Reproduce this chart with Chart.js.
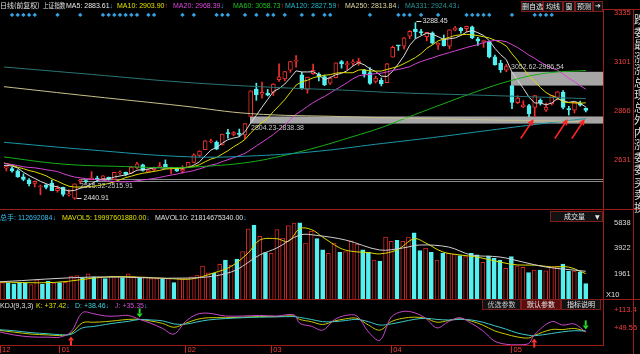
<!DOCTYPE html>
<html lang="en">
<head>
<meta charset="utf-8">
<title>上证指数 日线</title>
<script src="https://cdn.jsdelivr.net/npm/chart.js@4.4.1/dist/chart.umd.min.js"></script>
<style>
    html, body { margin: 0; padding: 0; background: #000; }
    #screen { position: relative; width: 640px; height: 354px; overflow: hidden; background: #000;
              font-family: "Liberation Sans", Arial, sans-serif; font-size: 7px; color: #e0e0e0; }
    #screen canvas { position: absolute; left: 0; }
    .txt { position: absolute; white-space: nowrap; line-height: 9px; }
    .cn { font-family: "Noto Sans CJK SC", sans-serif; }
    .dn { color: #2cb0ff; }
    .up { color: #ff3030; }
    .btn { position: absolute; box-sizing: border-box; height: 11px; line-height: 9px; border: 1px solid #7c1c1c;
           background: #121212; color: #e8e8e8; text-align: center; white-space: nowrap;
           font-family: "Noto Sans CJK SC", sans-serif; font-size: 7px; }
    .hl { position: absolute; height: 1px; background: #9c1c1c; }
    .vl { position: absolute; width: 1px; background: #9c1c1c; }
    #side { position: absolute; left: 634px; top: 13px; width: 20px; font-family: "Noto Sans CJK SC", sans-serif;
            font-size: 11px; line-height: 12.5px; color: #dcdcdc; }
</style>
</head>
<body>
<div id="screen">
    <canvas id="mainChart" width="640" height="210" style="top:0"></canvas>
    <canvas id="volChart" width="640" height="90" style="top:210px"></canvas>
    <canvas id="kdjChart" width="640" height="54" style="top:300px"></canvas>

    <!-- frame lines -->
    <div class="hl" style="left:0;top:209px;width:640px"></div>
    <div class="hl" style="left:0;top:299px;width:640px"></div>
    <div class="hl" style="left:603px;top:9px;width:37px"></div>
    <div class="vl" style="left:603px;top:9px;height:336px"></div>
    <div class="vl" style="left:633px;top:9px;height:345px"></div>

    <!-- main header -->
    <div class="txt cn" style="left:0;top:1px;font-size:7px">日线(前复权)</div>
    <div class="txt cn" style="left:43px;top:1px;font-size:7px;transform:scale(0.8,1);transform-origin:0 0">上证指数</div>
    <div class="txt" style="left:66px;top:1px;color:#e6e6e6">MA5: 2883.61<span class="dn">↓</span></div>
    <div class="txt" style="left:117px;top:1px;color:#e0e000">MA10: 2903.90<span class="up">↑</span></div>
    <div class="txt" style="left:173px;top:1px;color:#e048e0">MA20: 2968.39<span class="dn">↓</span></div>
    <div class="txt" style="left:233px;top:1px;color:#20c020">MA60: 3058.73<span class="up">↑</span></div>
    <div class="txt" style="left:285px;top:1px;color:#20b8c8">MA120: 2827.59<span class="up">↑</span></div>
    <div class="txt" style="left:345px;top:1px;color:#e0d8a0">MA250: 2813.84<span class="dn">↓</span></div>
    <div class="txt" style="left:405px;top:1px;color:#2c9494">MA331: 2924.43<span class="dn">↓</span></div>
    <div class="btn" style="left:521px;top:1px;width:22px">删自选</div>
    <div class="btn" style="left:543px;top:1px;width:20px">均线</div>
    <div class="btn" style="left:563px;top:1px;width:12px">窗</div>
    <div class="btn" style="left:575px;top:1px;width:18px">预测</div>
    <div class="btn" style="left:593px;top:1px;width:10px;font-family:'DejaVu Sans'">➜</div>

    <!-- volume header -->
    <div class="txt" style="left:0;top:213px;color:#38c0f0"><span class="cn">总手</span>: 112692084<span class="dn">↓</span></div>
    <div class="txt" style="left:62px;top:213px;color:#e0e000">MAVOL5: 19997601880.00<span class="dn">↓</span></div>
    <div class="txt" style="left:155px;top:213px;color:#e0e0e0">MAVOL10: 21814675340.00<span class="dn">↓</span></div>
    <div class="btn" style="left:550px;top:211px;width:53px;text-align:left;padding-left:13px">成交量<span style="position:absolute;left:44px;font-family:'DejaVu Sans';font-size:6px">▼</span></div>
    <div class="txt" style="left:606px;top:290px;color:#e0e0e0;font-size:7.5px">X10</div>

    <!-- kdj header -->
    <div class="txt" style="left:0;top:301px;color:#e0e0e0">KDJ(9,3,3)</div>
    <div class="txt" style="left:36px;top:301px;color:#e0e000">K: +37.42<span class="dn">↓</span></div>
    <div class="txt" style="left:75px;top:301px;color:#3cd8d8">D: +38.46<span class="dn">↓</span></div>
    <div class="txt" style="left:115px;top:301px;color:#d050d0">J: +35.35<span class="dn">↓</span></div>
    <div class="btn" style="left:482px;top:299px;width:39px;color:#c8c8c8">优选参数</div>
    <div class="btn" style="left:521px;top:299px;width:40px;background:#5c0c0c">默认参数</div>
    <div class="btn" style="left:561px;top:299px;width:40px">指标说明</div>

    <!-- cut-off quote panel on the right -->
    <div id="side">跌<br>委<br>最<br>涨<br>涨<br>总<br>现<br>总<br>外<br>内<br>涨<br>委<br>委<br>买<br>卖<br>换</div>
</div>

<script>
// ========================================
// DATA
// ========================================
const dates = [
    '12-14','12-17','12-18','12-19','12-20','12-21','12-24','12-25','12-26','12-27','12-28',
    '01-02','01-03','01-04','01-07','01-08','01-09','01-10','01-11','01-14','01-15','01-16',
    '01-17','01-18','01-21','01-22','01-23','01-24','01-25','01-28','01-29','01-30','01-31',
    '02-01','02-11','02-12','02-13','02-14','02-15','02-18','02-19','02-20','02-21','02-22',
    '02-25','02-26','02-27','02-28',
    '03-01','03-04','03-05','03-06','03-07','03-08','03-11','03-12','03-13','03-14','03-15',
    '03-18','03-19','03-20','03-21','03-22','03-25','03-26','03-27','03-28','03-29',
    '04-01','04-02','04-03','04-04','04-08','04-09','04-10','04-11','04-12','04-15','04-16',
    '04-17','04-18','04-19','04-22','04-23','04-24','04-25','04-26','04-29','04-30',
    '05-06','05-07','05-08','05-09','05-10','05-13','05-14','05-15','05-16','05-17','05-20',
    '05-21','05-22','05-23'
];

const openP = [
    2618,2591,2589,2578,2549,2535,2517,2500,2510,2519,2483,
    2498,2462,2446,2529,2530,2535,2543,2540,2547,2537,2568,2570,2566,2592,2607,2574,2583,2595,2609,2590,2589,2576,
    2596,2618,2651,2679,2717,2714,2702,2758,2752,2757,2750,2839,2970,2945,2951,
    2954,3015,3019,3060,3103,3038,2968,3044,3040,3030,2998,3024,3102,3087,3094,3095,3060,3049,3007,3012,3001,
    3123,3178,3176,3223,3257,3245,3221,3240,3182,3212,3176,3252,3262,3259,3268,3211,3197,3197,3125,3093,3060,
    2986,2905,2885,2891,2882,2916,2869,2898,2930,2955,2876,2868,2903,2878
];
const highP = [
    2620,2602,2597,2583,2563,2540,2529,2510,2512,2533,2505,
    2500,2488,2515.32,2536,2531,2574,2552,2555,2548,2571,2578,2572,2599,2619,2610,2588,2596,2618,2630,2596,2594,2602,
    2619,2659,2674,2723,2730,2721,2754,2777,2766,2778,2804.23,2961,2998,3003,2968,
    2996,3091,3055,3103,3130,3050,3027,3090,3048,3037,3028,3096,3107,3103,3111,3118,3064,3073,3032,3023,3093,
    3176,3179,3217,3250,3288.45,3256,3242,3244,3192,3229,3254,3270,3266,3272,3272,3218,3204,3198,3133,3108,3088,
    2986.54,2938,2914,2897,2939,2923,2902,2940,2958,2963,2887,2906,2912,2880
];
const lowP = [
    2590,2577,2571,2546,2530,2505,2500,2463,2491,2482,2475,
    2456,2456,2440.91,2515.91,2520,2535,2525,2533,2533,2536,2561,2554,2565,2588,2576,2571,2576,2594,2597,2563,2575,2566,
    2596,2616,2647,2679,2711,2679,2701,2734,2746,2742,2732,2838.38,2916,2926,2937,
    2939,3006,3009,3050,3075,2969,2950,3040,3009,2986,2992,3023,3070,3063,3083,3084,3027,2992,2999,2985,3001,
    3123,3155,3162,3212,3213,3231,3201,3185,3160,3176,3163,3249,3238,3244,3211,3179,3170,3119,3085,3050,3052.62,
    2876,2900,2880,2838,2838,2893,2863,2893,2918,2875,2845,2855,2888,2860
];
const closeP = [
    2594,2598,2577,2550,2536,2516,2527,2505,2498,2483,2494,
    2465,2464,2515,2533,2526,2544,2535,2554,2536,2570,2570,2560,2596,2611,2580,2581,2592,2602,2597,2594,2576,2585,
    2618,2654,2672,2721,2720,2682,2754,2756,2761,2752,2804,2961,2942,2954,2941,
    2994,3028,3054,3102,3106,2970,3027,3060,3027,2991,3022,3096,3091,3091,3101,3104,3043,2997,3023,2995,3091,
    3170,3177,3216,3247,3245,3240,3242,3190,3189,3178,3254,3263,3250,3271,3215,3199,3202,3124,3086,3063,3078,
    2906,2926,2894,2851,2939,2904,2884,2939,2956,2882,2871,2906,2892,2867
];

// volume in axis units of the lower panel
const volume = [
    1350,1321,1295,1218,1321,1321,1166,1526,1192,1423,1295,
    1321,1346,1807,1858,1679,1987,1756,1756,1628,1756,1780,1705,1987,1780,1679,1756,1628,1628,1577,1628,1321,1628,
    1628,1756,1884,2576,2063,2038,2704,3038,2653,3115,3679,5397,5679,4833,3602,
    3550,5345,4704,5653,5832,5858,4325,5217,4653,3807,3550,4320,3627,3679,4500,4243,3807,3627,3038,2961,4781,
    4448,4525,4448,4781,5089,3756,3935,3627,3038,3550,3550,3474,3371,3294,3550,3422,2858,3345,3166,3038,2397,
    3294,2602,2474,2089,2269,2269,2218,2525,2576,2730,2192,2192,2141,1244
];

// short moving averages, one value per candle
const ma5 = [
    2602,2604,2601,2591,2571,2555,2541,2527,2516,2506,2501,
    2489,2481,2484,2494,2501,2516,2531,2538,2539,2548,2553,2558,2566,2581,2583,2586,2592,2593,2590,2593,2592,2591,
    2594,2605,2621,2650,2677,2690,2710,2727,2735,2741,2765,2807,2844,2883,2920,
    2958,2972,2994,3024,3057,3052,3052,3053,3038,3015,3025,3039,3045,3058,3080,3097,3086,3067,3054,3032,3030,
    3055,3091,3130,3180,3211,3225,3238,3233,3221,3208,3211,3215,3227,3243,3251,3240,3227,3202,3165,3135,3111,
    3051,3012,2973,2931,2903,2903,2894,2903,2924,2913,2906,2911,2901,2884
];
const ma10 = [
    2619,2613,2605,2595,2588,2579,2573,2564,2554,2539,2528,
    2515,2504,2500,2500,2501,2503,2506,2511,2517,2525,2535,2545,2552,2560,2566,2570,2575,2580,2586,2588,2589,2592,
    2594,2598,2607,2621,2634,2642,2658,2674,2693,2709,2728,2759,2786,2809,2831,
    2862,2890,2919,2954,2989,3005,3012,3024,3031,3036,3039,3046,3049,3048,3048,3061,3063,3056,3056,3056,3064,
    3071,3079,3092,3106,3121,3140,3165,3182,3201,3210,3218,3227,3230,3232,3230,3226,3221,3215,3204,3193,3176,
    3139,3107,3069,3033,3007,2977,2953,2938,2928,2908,2905,2903,2902,2904
];
const ma20 = [
    2616,2611,2608,2603,2597,2594,2592,2588,2583,2579,2574,
    2564,2555,2548,2544,2540,2538,2535,2533,2528,2527,2525,2525,2526,2530,2534,2537,2541,2546,2552,2557,2562,2569,
    2573,2579,2587,2596,2605,2611,2622,2631,2641,2651,2661,2679,2697,2715,2733,
    2752,2774,2797,2824,2849,2867,2886,2905,2920,2934,2951,2968,2984,3001,3019,3033,3038,3040,3044,3046,3052,
    3059,3064,3070,3077,3091,3102,3111,3119,3129,3137,3145,3153,3161,3169,3176,3183,3193,3199,3203,3202,3197,
    3183,3169,3151,3132,3117,3099,3084,3071,3061,3042,3022,3005,2986,2969
];

// long moving averages, read at a few candles
const ma60Idx = [0, 11, 22, 30, 38, 44, 50, 56, 62, 67, 72, 78, 84, 90, 96, 103];
const ma60 = [2646, 2610, 2598, 2593, 2603, 2620, 2652, 2693, 2742, 2785, 2838, 2900, 2960, 3012, 3046, 3059];
const ma120Idx = [0, 15, 33, 45, 56, 66, 76, 86, 95, 103];
const ma120 = [2716, 2680, 2645, 2650, 2672, 2705, 2737, 2772, 2803, 2828];
const ma250Idx = [0, 16, 32, 44, 60, 75, 90, 103];
const ma250 = [2983, 2935, 2889, 2852, 2838, 2828, 2820, 2814];
const ma331Idx = [0, 16, 32, 48, 60, 70, 85, 103];
const ma331 = [3077, 3040, 3003, 2978, 2965, 2952, 2940, 2924];

// volume averages
const mavol5Idx = [0, 10, 20, 30, 34, 38, 41, 44, 46, 49, 51, 53, 55, 57, 60, 62, 65, 67, 70, 73, 75, 78, 81, 84, 88, 91, 94, 97, 100, 103];
const mavol5 = [1366, 1330, 1770, 1630, 1594, 2060, 2550, 3580, 4550, 4650, 4450, 5420, 5350, 4780, 3950, 3700, 3600, 3500, 3800, 4650, 4330, 3650, 3420, 3260, 2880, 2660, 2650, 2510, 2500, 2000];
const mavol10Idx = [0, 17, 34, 41, 46, 49, 53, 56, 61, 67, 71, 74, 79, 83, 88, 92, 96, 103];
const mavol10 = [1366, 1746, 1670, 2125, 3416, 3947, 4934, 4900, 4554, 3795, 3947, 4175, 4023, 3416, 3264, 2884, 2505, 2181];

// KDJ(9,3,3)
const kdjIdx = [0,3,6,9,11,13,15,17,19,21,23,25,27,29,31,33,35,37,40,43,46,49,52,53,55,57,59,61,63,65,67,69,71,73,75,77,79,81,83,85,87,89,91,93,94,97,99,101,103];
const kLine = [42,35,28,25,23,30,68,70,72,76,80,80,74,66,52,66,80,86,86,88,90,90,92,80,72,62,74,82,84,60,42,72,84,88,84,70,76,82,74,60,40,28,18,14,23,44,44,48,37.42];
const dLine = [44,40,33,29,26,27,50,55,62,68,73,80,78,75,64,63,71,78,83,86,88,89,90,87,80,72,72,76,80,72,60,64,72,80,84,80,78,80,78,70,58,46,32,24,22,30,36,40,38.46];
const jLine = [38,25,18,17,17,36,104,100,92,92,94,80,66,48,28,72,98,102,92,92,94,92,96,66,56,42,78,94,92,36,6,88,108,104,84,50,72,86,66,40,4,-8,-10,-6,25,72,60,64,35.35];

// markers
const signalIdx = [2,3,4,5,6,10,14,18,19,20,21,22,23,24,26,27,32,34,38,39,40,43,45,47,48,50,53,55,57,58,65,70,71,72,74,77,82,83,84,85,86,90,94,95,96,97];
const gapIdx = [14, 44, 90];
const supportGapIdx = 44;
const supportArrowIdx = [94, 100, 103];
const goldenCrossIdx = [13, 94];
const deadCrossIdx = [25, 103];

// axis ticks
const priceTicks = [2631, 2866, 3101, 3335];
const volumeTicks = [1961, 3922, 5838];
const kdjTicks = [49.55, 113.4];

document.addEventListener('DOMContentLoaded', function() {

    // ========================================
    // 1. SHARED SETTINGS
    // ========================================
    const RED = '#f03030';
    const CYAN = '#54f0f0';
    const FRAME = '#9c1c1c';
    const LABEL_RED = '#f04040';
    const FONT = 'Liberation Sans';
    const X_MIN = 0.585;
    const X_MAX = 106.02;

    const candleIdx = dates.map(function(d, i) { return i; });
    const isUp = closeP.map(function(c, i) { return c >= openP[i]; });

    function points(idx, vals) {
        return idx.map(function(x, n) { return { x: x, y: vals[n] }; });
    }
    function series(vals) {
        return vals.map(function(v, i) { return { x: i, y: v }; });
    }

    function lineSet(data, color, tension) {
        return {
            type: 'line',
            data: data,
            borderColor: color,
            borderWidth: 1,
            pointRadius: 0,
            tension: tension || 0,
            order: 1
        };
    }

    function rightAxis(min, max, ticks, color, label) {
        return {
            position: 'right',
            min: min,
            max: max,
            grid: { display: false },
            border: { display: true, color: FRAME },
            afterBuildTicks: function(axis) {
                axis.ticks = ticks.map(function(v) { return { value: v }; });
            },
            afterFit: function(axis) {
                axis.width = 37;
                axis.paddingTop = 0;
                axis.paddingBottom = 0;
            },
            ticks: {
                color: color,
                padding: 3,
                font: { family: FONT, size: 7.5 },
                callback: label
            }
        };
    }

    // bar charts put an offset on the x scale by default, switch it off
    const hiddenX = { type: 'linear', min: X_MIN, max: X_MAX, offset: false, display: false };

    const baseOptions = {
        responsive: false,
        animation: false,
        events: [],
        plugins: { legend: { display: false }, tooltip: { enabled: false } }
    };

    function drawArrow(ctx, x1, y1, x2, y2, color) {
        const a = Math.atan2(y2 - y1, x2 - x1);
        ctx.strokeStyle = color;
        ctx.lineWidth = 1.5;
        ctx.beginPath();
        ctx.moveTo(x1, y1);
        ctx.lineTo(x2, y2);
        ctx.moveTo(x2 - 5 * Math.cos(a - 0.5), y2 - 5 * Math.sin(a - 0.5));
        ctx.lineTo(x2, y2);
        ctx.lineTo(x2 - 5 * Math.cos(a + 0.5), y2 - 5 * Math.sin(a + 0.5));
        ctx.stroke();
    }

    // dir -1: pointing up, +1: pointing down
    function drawSignal(ctx, x, tipY, dir, color) {
        ctx.fillStyle = color;
        if (dir < 0) {
            ctx.fillRect(x - 1, tipY + 4, 2, 5);
        } else {
            ctx.fillRect(x - 1, tipY - 9, 2, 5);
        }
        ctx.beginPath();
        ctx.moveTo(x, tipY);
        ctx.lineTo(x - 3, tipY - dir * 4);
        ctx.lineTo(x + 3, tipY - dir * 4);
        ctx.closePath();
        ctx.fill();
    }

    // gaps between neighbouring candles
    const gaps = gapIdx.map(function(i) {
        const up = lowP[i] > highP[i - 1];
        const prev = up ? highP[i - 1] : lowP[i - 1];
        const cur = up ? lowP[i] : highP[i];
        return {
            i: i,
            up: up,
            hi: Math.max(prev, cur),
            lo: Math.min(prev, cur),
            text: prev.toFixed(2) + '-' + cur.toFixed(2)
        };
    });

    // ========================================
    // 2. MAIN PANEL OVERLAYS
    // ========================================
    const mainOverlay = {
        id: 'mainOverlay',
        beforeDatasetsDraw: function(chart) {
            const ctx = chart.ctx, area = chart.chartArea;
            const x = chart.scales.x, y = chart.scales.y;
            ctx.save();
            ctx.beginPath();
            ctx.rect(area.left, area.top, area.right - area.left, area.bottom - area.top);
            ctx.clip();
            gaps.forEach(function(g) {
                const x0 = Math.round(x.getPixelForValue(g.i)) - 1;
                const yTop = y.getPixelForValue(g.hi);
                const yBot = y.getPixelForValue(g.lo);
                if (yBot - yTop >= 3) {
                    ctx.fillStyle = '#a6a6a6';
                    ctx.fillRect(x0, yTop, area.right - x0, yBot - yTop);
                } else {
                    ctx.strokeStyle = '#8a8a8a';
                    ctx.lineWidth = 1;
                    ctx.beginPath();
                    ctx.moveTo(x0, Math.round(yBot) - 4.5);
                    ctx.lineTo(area.right, Math.round(yBot) - 4.5);
                    ctx.moveTo(x0, Math.round(yBot) - 2.5);
                    ctx.lineTo(area.right, Math.round(yBot) - 2.5);
                    ctx.stroke();
                }
            });
            ctx.restore();
        },
        afterDatasetsDraw: function(chart) {
            const ctx = chart.ctx;
            const x = chart.scales.x, y = chart.scales.y;
            ctx.save();
            ctx.font = '7px "' + FONT + '"';
            ctx.fillStyle = '#c8c8c8';

            // gap labels
            gaps.forEach(function(g) {
                const x0 = Math.round(x.getPixelForValue(g.i)) - 1;
                const yTop = y.getPixelForValue(g.hi);
                const yBot = y.getPixelForValue(g.lo);
                if (g.up) {
                    ctx.textBaseline = 'top';
                    ctx.fillText(g.text, x0 + 1, yBot - yTop >= 3 ? yBot + 0.5 : yBot - 1.5);
                } else {
                    ctx.textBaseline = 'bottom';
                    ctx.fillText(g.text, x0, yTop - 1.5);
                }
            });

            // highest high / lowest low
            ctx.fillStyle = '#e0e0e0';
            ctx.strokeStyle = '#e0e0e0';
            ctx.lineWidth = 1;
            ctx.textBaseline = 'middle';
            const peak = highP.indexOf(Math.max.apply(null, highP));
            const trough = lowP.indexOf(Math.min.apply(null, lowP));
            let px = x.getPixelForValue(peak), py = y.getPixelForValue(highP[peak]) - 1.5;
            ctx.beginPath();
            ctx.moveTo(px + 1, Math.round(py) + 0.5);
            ctx.lineTo(px + 6, Math.round(py) + 0.5);
            ctx.stroke();
            ctx.fillText(highP[peak].toFixed(2), px + 7, py);
            px = x.getPixelForValue(trough);
            py = y.getPixelForValue(lowP[trough]) - 1;
            ctx.beginPath();
            ctx.moveTo(px + 2, Math.round(py) + 0.5);
            ctx.lineTo(px + 7, Math.round(py) + 0.5);
            ctx.stroke();
            ctx.fillText(lowP[trough].toFixed(2), px + 9, py);

            // hand drawn arrows pointing at the support gap
            const support = gaps.filter(function(g) { return g.i === supportGapIdx; })[0];
            const tipY = y.getPixelForValue(support.hi) + 4;
            supportArrowIdx.forEach(function(i) {
                const tx = x.getPixelForValue(i) - 2;
                drawArrow(ctx, tx - 12, tipY + 18, tx, tipY, '#ff2424');
            });
            ctx.restore();
        }
    };

    // ========================================
    // 3. CANDLES + MOVING AVERAGES
    // ========================================
    new Chart(document.getElementById('mainChart'), {
        type: 'bar',
        data: {
            datasets: [
                {
                    data: candleIdx.map(function(i) { return { x: i, y: [lowP[i], highP[i]] }; }),
                    backgroundColor: isUp.map(function(u) { return u ? RED : CYAN; }),
                    barThickness: 1,
                    grouped: false,
                    order: 6
                },
                {
                    data: candleIdx.map(function(i) { return { x: i, y: [openP[i], closeP[i]] }; }),
                    backgroundColor: isUp.map(function(u) { return u ? '#000' : CYAN; }),
                    borderColor: isUp.map(function(u) { return u ? RED : CYAN; }),
                    borderWidth: 1,
                    borderSkipped: false,
                    barThickness: 4,
                    minBarLength: 1,
                    grouped: false,
                    order: 5
                },
                lineSet(points(ma331Idx, ma331), '#2a7676', 0.4),
                lineSet(points(ma250Idx, ma250), '#c8c08c', 0.4),
                lineSet(points(ma120Idx, ma120), '#1c96a8', 0.4),
                lineSet(points(ma60Idx, ma60), '#18b018', 0.4),
                lineSet(series(ma20), '#d444d4'),
                lineSet(series(ma10), '#dcdc00'),
                lineSet(series(ma5), '#dcdcdc'),
                {
                    type: 'scatter',
                    yAxisID: 'ys',
                    data: signalIdx.map(function(i) { return { x: i, y: 0.975 }; }),
                    pointStyle: 'rectRot',
                    pointRadius: 2.2,
                    backgroundColor: '#34a4e4',
                    borderWidth: 0,
                    order: 0
                }
            ]
        },
        options: Object.assign({}, baseOptions, {
            layout: { padding: { top: 10, bottom: 1, left: 0, right: 0 } },
            scales: {
                x: hiddenX,
                y: rightAxis(2409, 3349, priceTicks, LABEL_RED, function(v) { return String(v); }),
                ys: { display: false, min: 0, max: 1 }
            }
        }),
        plugins: [mainOverlay]
    });

    // ========================================
    // 4. VOLUME PANEL
    // ========================================
    new Chart(document.getElementById('volChart'), {
        type: 'bar',
        data: {
            datasets: [
                {
                    data: series(volume),
                    backgroundColor: isUp.map(function(u) { return u ? '#000' : CYAN; }),
                    borderColor: isUp.map(function(u) { return u ? '#d02828' : CYAN; }),
                    borderWidth: 1,
                    barThickness: 4,
                    grouped: false,
                    order: 5
                },
                lineSet(points(mavol10Idx, mavol10), '#cfcfcf', 0.35),
                lineSet(points(mavol5Idx, mavol5), '#dcdc00', 0.35)
            ]
        },
        options: Object.assign({}, baseOptions, {
            layout: { padding: { top: 8, bottom: 0, left: 0, right: 0 } },
            scales: {
                x: hiddenX,
                y: rightAxis(0, 6224, volumeTicks, '#dcdcdc', function(v) { return String(v); })
            }
        })
    });

    // ========================================
    // 5. KDJ PANEL
    // ========================================
    const kdjOverlay = {
        id: 'kdjOverlay',
        afterDatasetsDraw: function(chart) {
            const ctx = chart.ctx;
            const x = chart.scales.x, y = chart.scales.y;
            ctx.save();
            goldenCrossIdx.forEach(function(i) {
                const k = kLine[kdjIdx.indexOf(i)];
                drawSignal(ctx, x.getPixelForValue(i), y.getPixelForValue(k) + 3, -1, '#ff3434');
            });
            deadCrossIdx.forEach(function(i) {
                const k = kLine[kdjIdx.indexOf(i)];
                drawSignal(ctx, x.getPixelForValue(i), y.getPixelForValue(k) - 2, 1, '#24dc24');
            });
            ctx.restore();
        }
    };

    new Chart(document.getElementById('kdjChart'), {
        type: 'line',
        data: {
            datasets: [
                lineSet(points(kdjIdx, jLine), '#c848c8', 0.35),
                lineSet(points(kdjIdx, dLine), '#3cc8c8', 0.35),
                lineSet(points(kdjIdx, kLine), '#c8c800', 0.35)
            ]
        },
        options: Object.assign({}, baseOptions, {
            layout: { padding: { top: 3, bottom: 0, left: 0, right: 0 } },
            scales: {
                x: {
                    type: 'linear',
                    min: X_MIN,
                    max: X_MAX,
                    offset: false,
                    position: 'bottom',
                    afterBuildTicks: function(axis) {
                        const t = [{ value: X_MIN }];
                        for (let i = 1; i < dates.length; i++) {
                            if (dates[i].slice(0, 2) !== dates[i - 1].slice(0, 2)) t.push({ value: i });
                        }
                        axis.ticks = t;
                    },
                    afterFit: function(axis) {
                        axis.height = 9;
                        axis.paddingLeft = 0;
                        axis.paddingRight = 0;
                    },
                    grid: { display: true, drawOnChartArea: false, drawTicks: true, tickLength: 8, color: '#c82020' },
                    border: { display: true, color: FRAME },
                    ticks: {
                        autoSkip: false,
                        maxRotation: 0,
                        align: 'start',
                        padding: -8,
                        color: LABEL_RED,
                        font: { family: FONT, size: 7.5 },
                        callback: function(v) {
                            return ' ' + dates[Math.max(0, Math.round(v))].slice(0, 2);
                        }
                    }
                },
                y: rightAxis(-10.75, 138.2, kdjTicks, LABEL_RED, function(v) { return '+' + v; })
            }
        }),
        plugins: [kdjOverlay]
    });
});
</script>
</body>
</html>
